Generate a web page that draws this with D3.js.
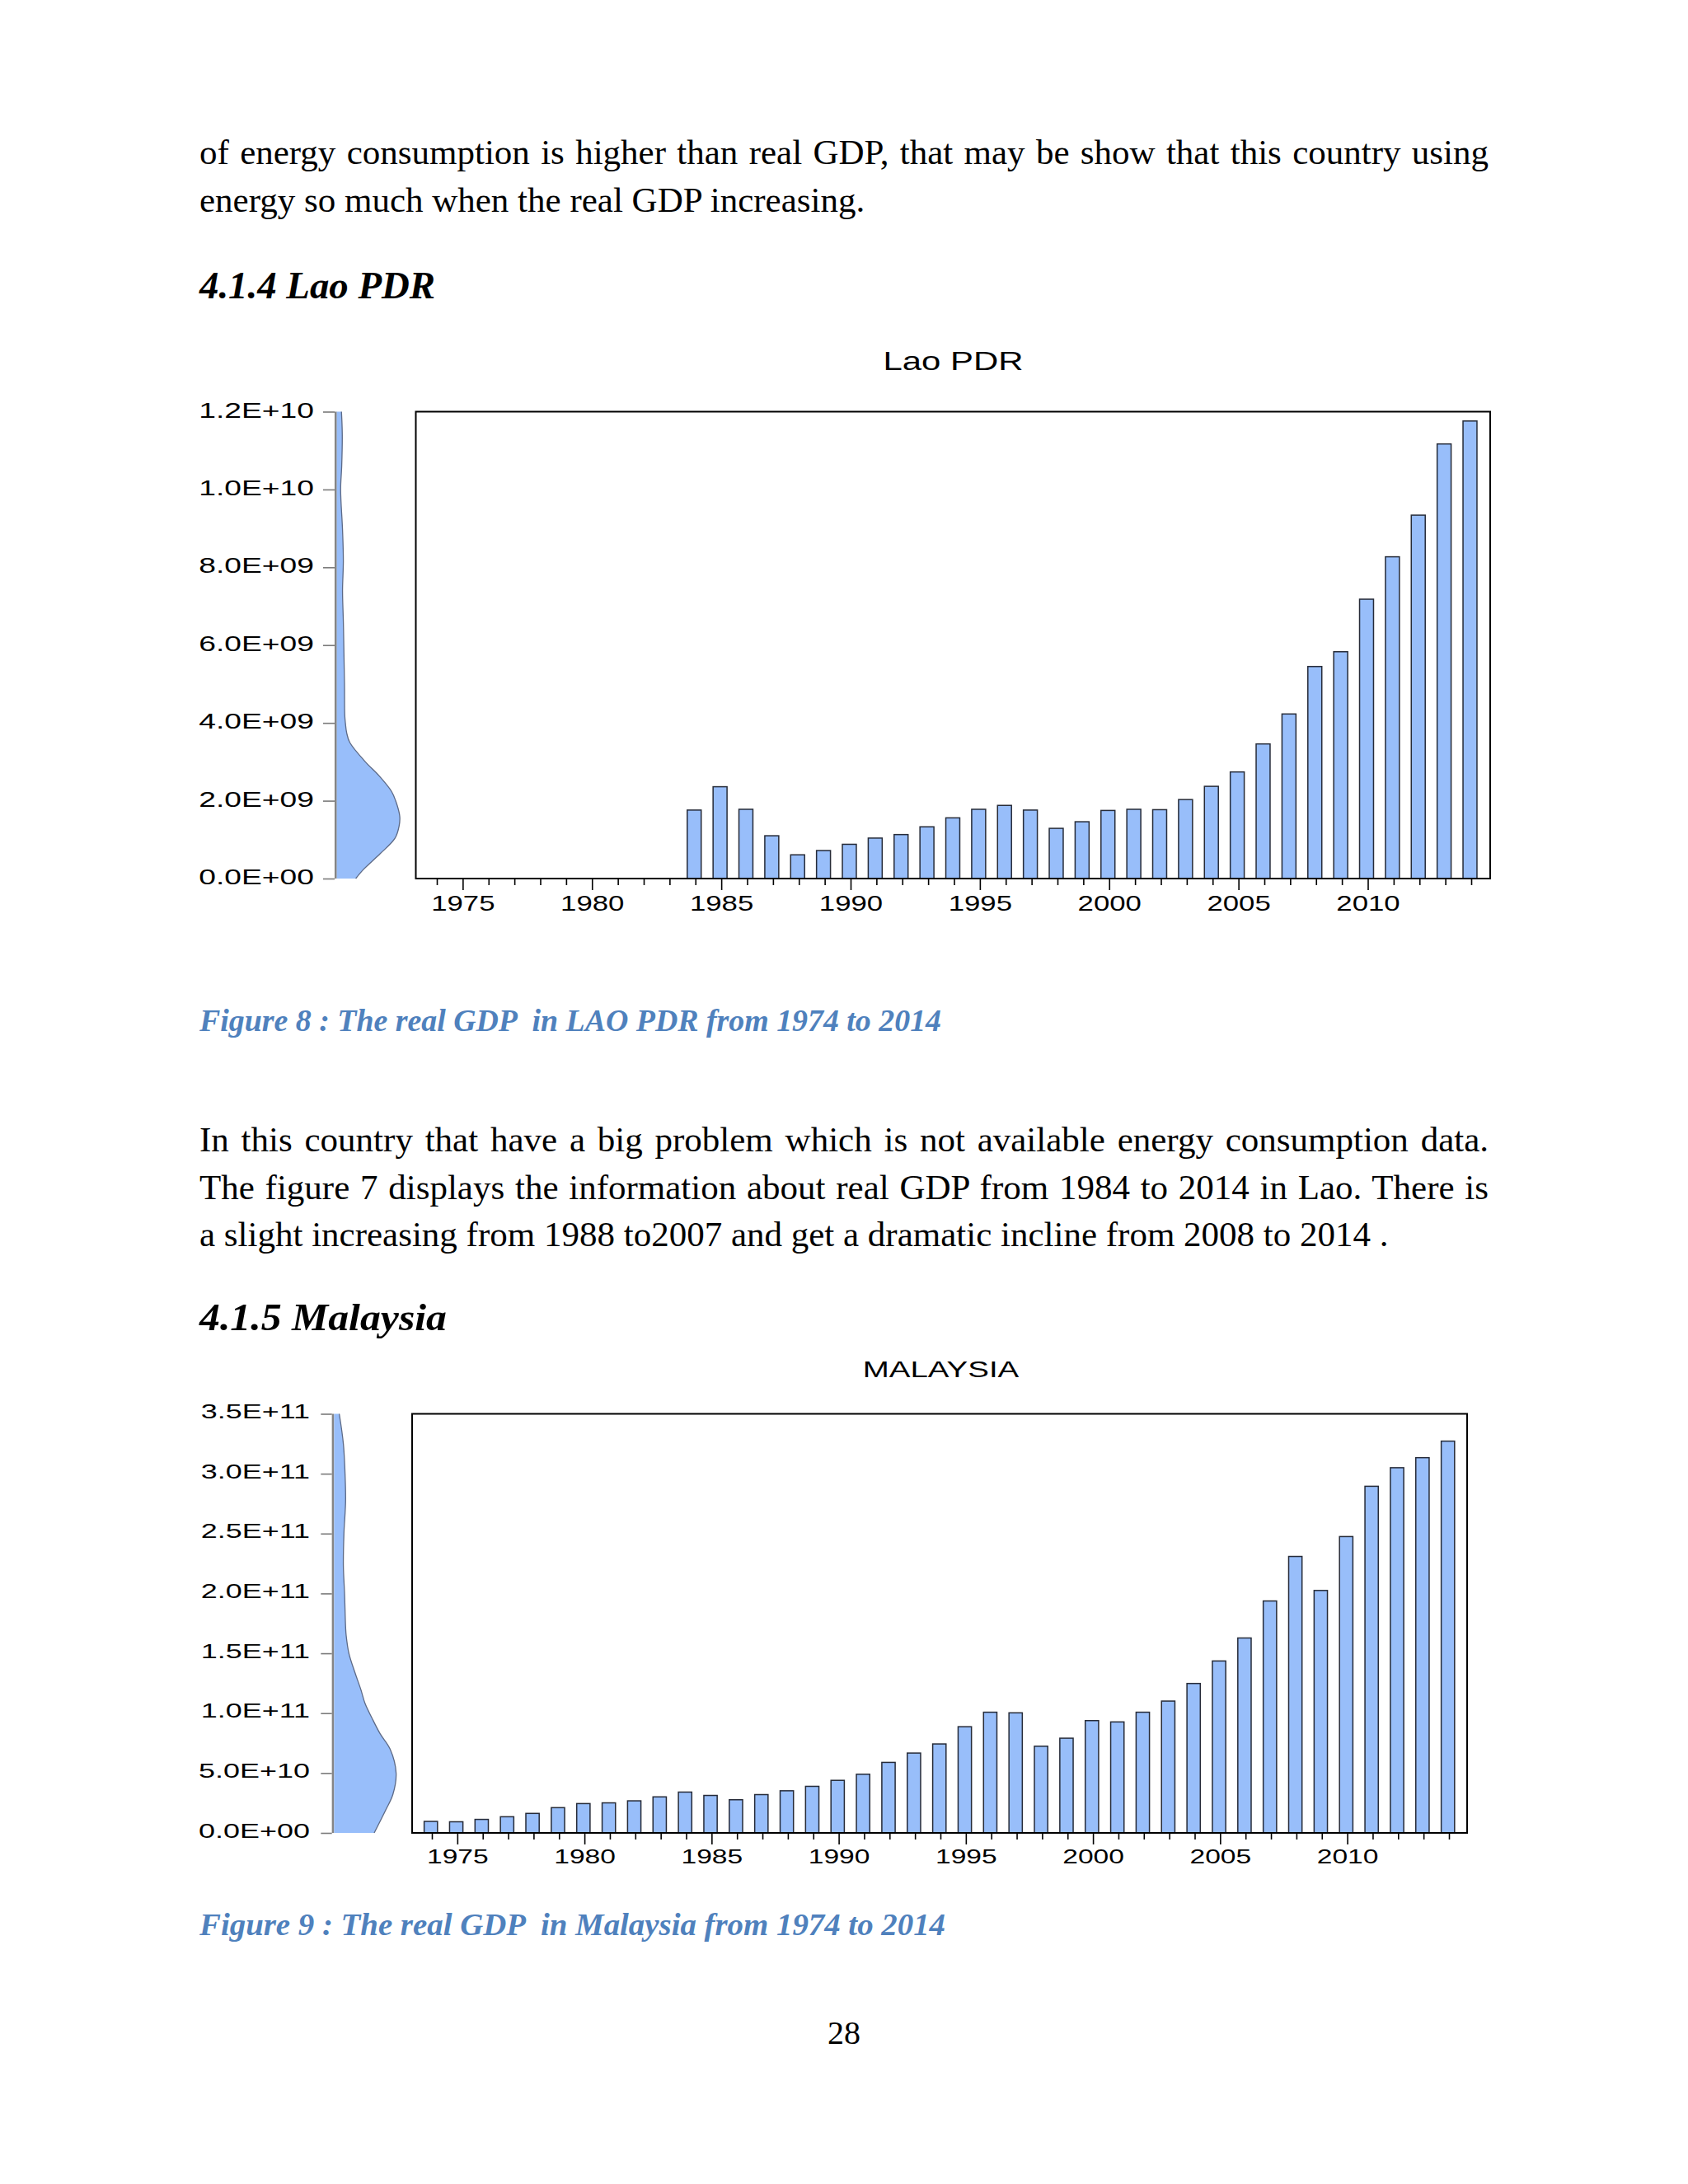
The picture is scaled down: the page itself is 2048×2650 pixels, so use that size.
<!DOCTYPE html>
<html><head><meta charset="utf-8">
<script src="https://cdn.jsdelivr.net/npm/d3@7"></script>
<style>
html,body{margin:0;padding:0;background:#fff;}
svg{display:block;}
</style></head><body>
<svg id="page" width="2048" height="2650"></svg>
<script>
// ---------------- DATA ----------------
const years = [1974,1975,1976,1977,1978,1979,1980,1981,1982,1983,1984,1985,1986,1987,1988,1989,1990,1991,1992,1993,
               1994,1995,1996,1997,1998,1999,2000,2001,2002,2003,2004,2005,2006,2007,2008,2009,2010,2011,2012,2013,2014];
const labeledYears = [1975,1980,1985,1990,1995,2000,2005,2010];
const xTickLabels = ["1975","1980","1985","1990","1995","2000","2005","2010"];

// Lao PDR real GDP (no data before 1984)
const laoGDP = [null,null,null,null,null,null,null,null,null,null,
  1.76e9,2.36e9,1.78e9,1.10e9,0.61e9,0.72e9,0.88e9,1.04e9,1.13e9,1.33e9,
  1.56e9,1.78e9,1.88e9,1.76e9,1.29e9,1.46e9,1.75e9,1.78e9,1.77e9,2.03e9,
  2.37e9,2.74e9,3.46e9,4.23e9,5.45e9,5.83e9,7.18e9,8.27e9,9.34e9,11.17e9,11.76e9];
const laoYTicks = [0,2e9,4e9,6e9,8e9,1e10,1.2e10];
const laoYLabels = ["0.0E+00","2.0E+09","4.0E+09","6.0E+09","8.0E+09","1.0E+10","1.2E+10"];
// kernel density of Lao GDP (value, relative density)
const laoDensity = [[0,0.304],[0.24e9,0.430],[0.64e9,0.691],[1.04e9,0.926],[1.36e9,0.991],[1.6e9,1.0],
  [2.0e9,0.935],[2.24e9,0.870],[2.64e9,0.674],[3.0e9,0.456],[3.5e9,0.209],[3.75e9,0.160],[4.0e9,0.140],
  [4.2e9,0.130],[5.0e9,0.126],[5.8e9,0.117],[6.6e9,0.108],[7.4e9,0.095],[8.16e9,0.108],[8.96e9,0.095],
  [10.0e9,0.065],[10.6e9,0.082],[11.4e9,0.091],[12.0e9,0.078]];

// Malaysia real GDP
const myGDP = [0.96e10,0.93e10,1.13e10,1.35e10,1.63e10,2.11e10,2.45e10,2.51e10,2.68e10,3.01e10,
  3.41e10,3.13e10,2.77e10,3.20e10,3.52e10,3.89e10,4.39e10,4.90e10,5.89e10,6.67e10,
  7.43e10,8.87e10,10.08e10,10.03e10,7.24e10,7.91e10,9.38e10,9.27e10,10.08e10,11.01e10,
  12.48e10,14.36e10,16.28e10,19.37e10,23.09e10,20.25e10,24.75e10,28.95e10,30.50e10,31.34e10,32.72e10];
const myYTicks = [0,5e10,1e11,1.5e11,2e11,2.5e11,3e11,3.5e11];
const myYLabels = ["0.0E+00","5.0E+10","1.0E+11","1.5E+11","2.0E+11","2.5E+11","3.0E+11","3.5E+11"];
const myDensity = [[0,0.647],[0.196e11,0.837],[0.32e11,0.947],[0.5e11,1.0],[0.70e11,0.903],[0.83e11,0.740],
  [0.96e11,0.610],[1.08e11,0.500],[1.2e11,0.430],[1.34e11,0.336],[1.5e11,0.239],[1.65e11,0.195],
  [1.72e11,0.186],[2.0e11,0.169],[2.23e11,0.150],[2.5e11,0.159],[2.77e11,0.186],[3.0e11,0.177],
  [3.25e11,0.150],[3.5e11,0.084]];

// Text
const para1Lines = ["of energy consumption is higher than real GDP, that may be show that this country using",
                    "energy so much when the real GDP increasing."];
const heading1 = "4.1.4 Lao PDR";
const caption1 = "Figure 8 : The real GDP  in LAO PDR from 1974 to 2014";
const para2Lines = ["In this country that have a big problem which is not available energy consumption data.",
                    "The figure 7 displays the information about real GDP from 1984 to 2014 in Lao. There is",
                    "a slight increasing from 1988 to2007 and get a dramatic incline from 2008 to 2014 ."];
const heading2 = "4.1.5 Malaysia";
const caption2 = "Figure 9 : The real GDP  in Malaysia from 1974 to 2014";
const pageNumber = "28";

// ---------------- DRAWING ----------------
const svg = d3.select("#page");
const serif = "'Liberation Serif','Times New Roman',serif";
const sans = "'Liberation Sans',Arial,Helvetica,sans-serif";
const barFill = "#98befa", barStroke = "#262b38";
const bodyLeft = 242, bodyRight = 1806;

function addLine(str, y, o) {
  const t = svg.append("text").attr("x", o.x != null ? o.x : bodyLeft).attr("y", y)
    .attr("xml:space", "preserve").style("white-space", "pre")
    .attr("font-family", o.family).attr("font-size", o.size)
    .attr("font-weight", o.weight || "normal").attr("font-style", o.style || "normal")
    .attr("text-anchor", o.anchor || "start")
    .attr("fill", o.color || "#000").text(str);
  if (o.justify) {
    const w = t.node().getComputedTextLength();
    const n = (str.match(/ /g) || []).length;
    if (n > 0) t.attr("word-spacing", (bodyRight - bodyLeft - w) / n);
  }
  if (o.width) t.attr("textLength", o.width).attr("lengthAdjust", "spacingAndGlyphs");
  return t;
}

const bodyOpts = {family: serif, size: 43};
para1Lines.forEach((s, i) => addLine(s, 199 + i * 58, Object.assign({justify: i < para1Lines.length - 1}, bodyOpts)));
addLine(heading1, 362, {family: serif, size: 47, weight: "bold", style: "italic", width: 286});
addLine(caption1, 1251, {family: serif, size: 37.5, weight: "bold", style: "italic", color: "#4f81bd", width: 900});
para2Lines.forEach((s, i) => addLine(s, 1397 + i * 57.5, Object.assign({justify: i < para2Lines.length - 1}, bodyOpts)));
addLine(heading2, 1614, {family: serif, size: 47, weight: "bold", style: "italic", width: 300});
addLine(caption2, 2348, {family: serif, size: 37.5, weight: "bold", style: "italic", color: "#4f81bd", width: 905});
addLine(pageNumber, 2480, {family: serif, size: 40, x: 1024, anchor: "middle"});

function drawChart(c) {
  const g = svg.append("g");
  const box = c.box;
  const x = d3.scaleLinear().domain([years[0], years[years.length - 1]]).range(c.xRange);
  const y = d3.scaleLinear().domain([0, c.yMax]).range([box.bottom, box.top]);
  const step = x(years[1]) - x(years[0]);
  const bw = step * c.barFrac;

  // bars
  const data = years.map((yr, i) => ({yr, v: c.values[i]})).filter(d => d.v != null);
  g.selectAll("rect.bar").data(data).join("rect").attr("class", "bar")
    .attr("x", d => x(d.yr) - bw / 2 + c.barShift).attr("y", d => y(d.v))
    .attr("width", bw).attr("height", d => y(0) - y(d.v))
    .attr("fill", barFill).attr("stroke", barStroke).attr("stroke-width", 1.5);

  // frame
  g.append("rect").attr("x", box.left).attr("y", box.top)
    .attr("width", box.right - box.left).attr("height", box.bottom - box.top)
    .attr("fill", "none").attr("stroke", "#000").attr("stroke-width", 2);

  // x axis
  const xa = g.append("g").attr("transform", `translate(0,${box.bottom})`)
    .call(d3.axisBottom(x).tickValues(years).tickSize(8)
      .tickFormat(d => { const k = labeledYears.indexOf(d); return k >= 0 ? xTickLabels[k] : ""; }));
  xa.select(".domain").remove();
  xa.selectAll(".tick line").attr("y2", d => labeledYears.indexOf(d) >= 0 ? 14 : 8)
    .attr("stroke", "#000").attr("stroke-width", 1.6);
  xa.selectAll(".tick text").attr("y", 0).attr("dy", null)
    .attr("transform", `translate(0,${c.xLabelBaseline - box.bottom}) scale(${c.xLabelSX},1)`)
    .attr("font-family", sans).attr("font-size", c.xLabelSize).attr("fill", "#000");

  // density side panel
  const dx = d3.scaleLinear().domain([0, 1]).range([0, c.densPeak]);
  const area = d3.area().curve(d3.curveCatmullRom.alpha(0.5))
    .y(d => y(d[0])).x0(c.densBase).x1(d => c.densBase + dx(d[1]));
  const line = d3.line().curve(d3.curveCatmullRom.alpha(0.5))
    .y(d => y(d[0])).x(d => c.densBase + dx(d[1]));
  g.append("path").attr("d", area(c.density)).attr("fill", barFill).attr("stroke", "none");
  g.append("path").attr("d", line(c.density)).attr("fill", "none").attr("stroke", "#5d6a86").attr("stroke-width", 1.3);

  // y axis (left of density panel)
  g.append("line").attr("x1", c.axisX + 1.2).attr("x2", c.axisX + 1.2)
    .attr("y1", box.top).attr("y2", box.bottom).attr("stroke", "#858585").attr("stroke-width", 2.5);
  const ya = g.append("g").attr("transform", `translate(${c.axisX},0)`)
    .call(d3.axisLeft(y).tickValues(c.yTicks).tickSize(c.yTickLen).tickFormat((d, i) => c.yLabels[i]));
  ya.select(".domain").remove();
  ya.selectAll(".tick line").attr("stroke", "#7a7a7a").attr("stroke-width", 1.6);
  ya.selectAll(".tick text").attr("x", 0).attr("dy", null)
    .attr("transform", `translate(${c.yLabelRight - c.axisX},${c.yLabelDy}) scale(${c.yLabelSX},1)`)
    .attr("font-family", sans).attr("font-size", c.yLabelSize).attr("fill", "#000").attr("text-anchor", "end");

  // title
  g.append("text").attr("transform", `translate(${c.titleX},${c.titleY}) scale(${c.titleSX},1)`)
    .attr("text-anchor", "middle").attr("font-family", sans).attr("font-size", c.titleSize)
    .attr("fill", "#000").text(c.title);
}

drawChart({
  values: laoGDP, density: laoDensity, yMax: 1.2e10, yTicks: laoYTicks, yLabels: laoYLabels,
  box: {left: 504.5, top: 499.5, right: 1808, bottom: 1066},
  xRange: [530, 1785], barFrac: 0.54, barShift: -1.5,
  axisX: 406, yTickLen: 14, yLabelRight: 381, yLabelDy: 6.5, yLabelSize: 25, yLabelSX: 1.49,
  xLabelBaseline: 1105, xLabelSize: 25, xLabelSX: 1.39,
  densBase: 408.3, densPeak: 76.7,
  title: "Lao PDR", titleX: 1156.5, titleY: 449, titleSize: 32, titleSX: 1.31
});

drawChart({
  values: myGDP, density: myDensity, yMax: 3.5e11, yTicks: myYTicks, yLabels: myYLabels,
  box: {left: 500, top: 1715.5, right: 1780, bottom: 2224},
  xRange: [524, 1758], barFrac: 0.525, barShift: -1.3,
  axisX: 402.7, yTickLen: 13.4, yLabelRight: 376, yLabelDy: 5, yLabelSize: 23.5, yLabelSX: 1.53,
  xLabelBaseline: 2261, xLabelSize: 23.5, xLabelSX: 1.43,
  densBase: 405.3, densPeak: 75.3,
  title: "MALAYSIA", titleX: 1141.5, titleY: 1671, titleSize: 28.5, titleSX: 1.35
});
</script>
</body></html>
